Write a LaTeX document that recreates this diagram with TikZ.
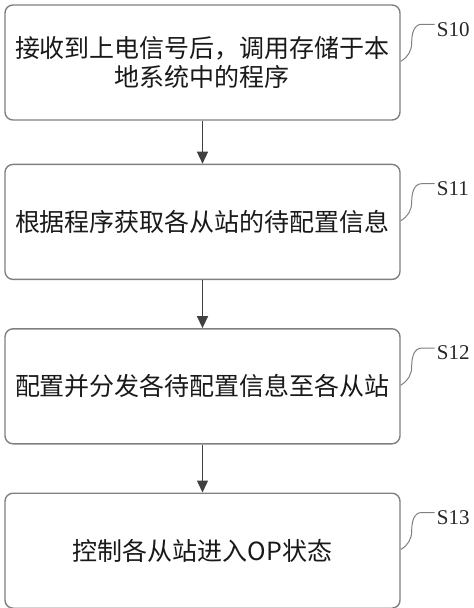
\documentclass[tikz,border=0pt]{standalone}
\usepackage{fontspec}
\setmainfont{Noto Sans CJK SC}
\newfontfamily\labelfont{Liberation Serif}
\usetikzlibrary{arrows.meta}
\usetikzlibrary{positioning}
\tikzset {
  % one step of the flow
  stepbox/.style = {
    draw = black!50,
    line width = 1.4pt,
    rounded corners = 8pt,
    minimum width = 395pt,
    minimum height = 115pt,
    align = center,
    text = black!90,
    font = \fontsize{25pt}{29pt}\selectfont
  },
  % step number beside the box
  steplabel/.style = {
    anchor = west,
    inner sep = 2pt,
    text = black!85,
    font = \labelfont\fontsize{21pt}{21pt}\selectfont
  },
  % path style from one step to the next
  flow/.style = {
    draw = black!75,
    line width = 1.4pt,
    -{Triangle[width=11pt,length=12pt]}
  },
  % wavy line from box to step number
  leader/.style = {
    draw = black!50,
    line width = 1pt
  },
  node distance = 48pt
}

\begin{document}
\begin{tikzpicture}
    \useasboundingbox (0,0) rectangle (474pt,-608pt);

    \node[stepbox] (box1) at (202.5pt,-62.5pt)
      {接收到上电信号后，调用存储于本\\地系统中的程序};
    \node[stepbox] (box2) [below=43pt of box1] {根据程序获取各从站的待配置信息};
    \node[stepbox] (box3) [below=of box2] {配置并分发各待配置信息至各从站};
    \node[stepbox] (box4) [below=of box3] {控制各从站进入OP状态};

    \node[steplabel] (s10) at ([xshift=34pt,yshift=-25pt]box1.north east) {S10};
    \node[steplabel] (s11) at ([xshift=34pt,yshift=-25pt]box2.north east) {S11};
    \node[steplabel] (s12) at ([xshift=34pt,yshift=-25pt]box3.north east) {S12};
    \node[steplabel] (s13) at ([xshift=34pt,yshift=-25pt]box4.north east) {S13};

    \draw[flow] (box1) -- (box2);
    \draw[flow] (box2) -- (box3);
    \draw[flow] (box3) -- (box4);

    \draw[leader] ([yshift=-57pt]box1.north east)
    to[out=30,in=-90] ++(11pt,19pt)
    to[out=90,in=180] ++(10pt,18pt)
    -- ([yshift=5pt]s10.west);
    \draw[leader] ([yshift=-57pt]box2.north east)
    to[out=30,in=-90] ++(11pt,19pt)
    to[out=90,in=180] ++(10pt,18pt)
    -- ([yshift=5pt]s11.west);
    \draw[leader] ([yshift=-57pt]box3.north east)
    to[out=30,in=-90] ++(11pt,19pt)
    to[out=90,in=180] ++(10pt,18pt)
    -- ([yshift=5pt]s12.west);
    \draw[leader] ([yshift=-57pt]box4.north east)
    to[out=30,in=-90] ++(11pt,19pt)
    to[out=90,in=180] ++(10pt,18pt)
    -- ([yshift=5pt]s13.west);
  \end{tikzpicture}
\end{document}
